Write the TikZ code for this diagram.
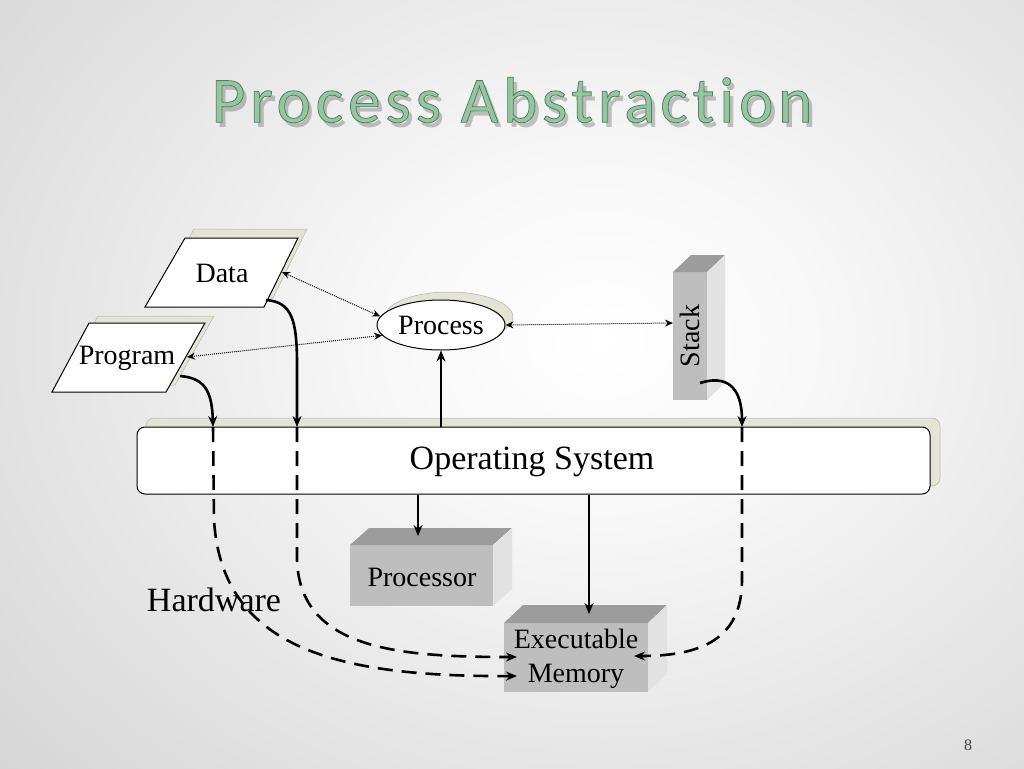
\documentclass[tikz,border=0pt]{standalone}
\usepackage{fontspec}
\setmainfont{Liberation Serif}
\newfontfamily\titlefont[LetterSpace=7.5,Ligatures=NoCommon]{Carlito}
\usetikzlibrary{arrows.meta,shapes.geometric,calc}
\definecolor{shadowc}{HTML}{E4E4D4}
\definecolor{frontc}{HTML}{BEBEBE}
\definecolor{topc}{HTML}{9C9C9C}
\definecolor{sidec}{HTML}{E2E2E2}
\definecolor{titlec}{HTML}{94C6A0}
\definecolor{titledark}{HTML}{557F60}
\newcommand{\outlinetext}[1]{\special{pdf:literal direct 0.33 0.5 0.38 RG 2 Tr 0.8 w}#1\special{pdf:literal direct 0 Tr}}
\pgfdeclareradialshading{bgshade}{\pgfpoint{0bp}{0bp}}{color(0bp)=(white); color(8bp)=(black!3); color(30bp)=(black!17); color(43bp)=(black!25); color(55bp)=(black!32)}
\begin{document}
\begin{tikzpicture}[x=1pt,y=-1pt,
  lbl/.style={font=\fontsize{28}{34}\selectfont, inner sep=0pt},
  big/.style={font=\fontsize{34}{40}\selectfont, inner sep=0pt},
  tip/.style={-{Stealth[length=11pt,width=9pt]}},
  solidarrow/.style={line width=2.6pt, tip},
  dashline/.style={line width=2.6pt, dash pattern=on 15pt off 9pt},
  dashtip/.style={dashline, tip},
  dotarrow/.style={line width=1pt, densely dotted, {Stealth[length=8pt,width=7pt]}-{Stealth[length=8pt,width=7pt]}},
  shad/.style={fill=shadowc, draw=gray!60, line width=0.5pt},
  front/.style={fill=frontc},
  topface/.style={fill=topc},
  sideface/.style={fill=sidec},
]
\useasboundingbox (0,0) rectangle (1024,768);
\begin{scope}
\clip (0,0) rectangle (1024,768);
\shade[shading=bgshade] (-100,-220) rectangle (1300,900);
\end{scope}

% title
\node[font=\titlefont\fontsize{65}{70}\selectfont, text=black, opacity=0.22] (titleshadow) at (516,105) {Process Abstraction};
\node[font=\titlefont\fontsize{65}{70}\selectfont, text=titlec] (title) at (512,100) {\outlinetext{Process Abstraction}};

% Data parallelogram
\fill[shad] (194,229) -- (307,229) -- (273,298) -- (154,298) -- cycle;
\draw[fill=white, line width=1pt] (185,238) -- (298,238) -- (264,307) -- (145,307) -- cycle;
\node[lbl] (data) at (222,273) {Data};
\coordinate (dataR) at (282,272);
\coordinate (dataC) at (266,300);

% Program parallelogram
\fill[shad] (98,316) -- (214,316) -- (175,385) -- (61,385) -- cycle;
\draw[fill=white, line width=1pt] (89,323) -- (205,323) -- (166,392) -- (52,392) -- cycle;
\node[lbl] (prog) at (127,358) {Program};
\coordinate (progR) at (187,357);
\coordinate (progC) at (180,376);

% Process ellipse
\fill[shad] (449,317) ellipse [x radius=64, y radius=25];
\node[ellipse, draw, line width=1pt, fill=white, minimum width=128pt, minimum height=50pt, inner sep=0pt, font=\fontsize{28}{34}\selectfont] (proc) at (441,325) {Process};

% Stack
\fill[front] (673,272) rectangle (707,400);
\fill[topface] (673,272) -- (691,255) -- (725,255) -- (707,272) -- cycle;
\fill[sideface] (707,272) -- (725,255) -- (725,383) -- (707,400) -- cycle;
\node[lbl, rotate=90] (stack) at (690,336) {Stack};
\coordinate (stackL) at (673,323);
\coordinate (stackC) at (700,383);

% Operating system
\draw[shad, rounded corners=8pt] (146,418) rectangle (940,486);
\node[draw, line width=1pt, fill=white, rounded corners=8pt, minimum width=793pt, minimum height=67pt, big] (os) at (533.5,460.5) {};
\node[big] (ostext) at (532,462) {Operating System};

% Processor
\fill[front] (350,545) rectangle (493,606);
\fill[topface] (350,545) -- (369,528) -- (512,528) -- (493,545) -- cycle;
\fill[sideface] (493,545) -- (512,528) -- (512,589) -- (493,606) -- cycle;
\node[lbl] (cpu) at (422,577) {Processor};
\coordinate (cpuT) at (418,536);

% Executable memory
\fill[front] (504,623) rectangle (648,692);
\fill[topface] (504,623) -- (523,605) -- (667,605) -- (648,623) -- cycle;
\fill[sideface] (648,623) -- (667,605) -- (667,674) -- (648,692) -- cycle;
\node[lbl, align=center] (mem) at (576,659) {Executable\\Memory};
\coordinate (memT) at (589,614);
\coordinate (memL1) at (517,657);
\coordinate (memL2) at (517,676);
\coordinate (memR) at (634,656);

% Hardware label
\node[big] (hw) at (214,600) {Hardware};

% page number
\node[font=\fontsize{16}{18}\selectfont, text=black!75] (pg) at (968,745) {8};

% dotted arrows
\draw[dotarrow] (dataR) -- (proc.172);
\draw[dotarrow] (progR) -- (proc.190);
\draw[dotarrow] (proc.east) -- (stackL);

% solid arrows
\draw[solidarrow] (proc.south |- os.north) -- (proc.south);
\draw[solidarrow] (cpuT |- os.south) -- (cpuT);
\draw[solidarrow] (memT |- os.south) -- (memT);

% data path
\coordinate (dataOS) at (297,427);
\draw[solidarrow] (dataC) .. controls (292,302) and (297,320) .. (297,365) -- (dataOS);
\draw[dashtip] (dataOS) -- (297,560) .. controls (300,650) and (400,657) .. (memL1);

% program path
\coordinate (progOS) at (213,427);
\draw[solidarrow] (progC) .. controls (204,378) and (212,390) .. (progOS);
\draw[dashtip] (progOS) -- (214,520) .. controls (222,650) and (340,677) .. (memL2);

% stack path
\coordinate (stackOS) at (742,427);
\draw[solidarrow] (stackC) .. controls (725,375) and (742,385) .. (stackOS);
\draw[dashtip] (stackOS) -- (742,580) .. controls (742,640) and (700,656) .. (memR);
\end{tikzpicture}
\end{document}
